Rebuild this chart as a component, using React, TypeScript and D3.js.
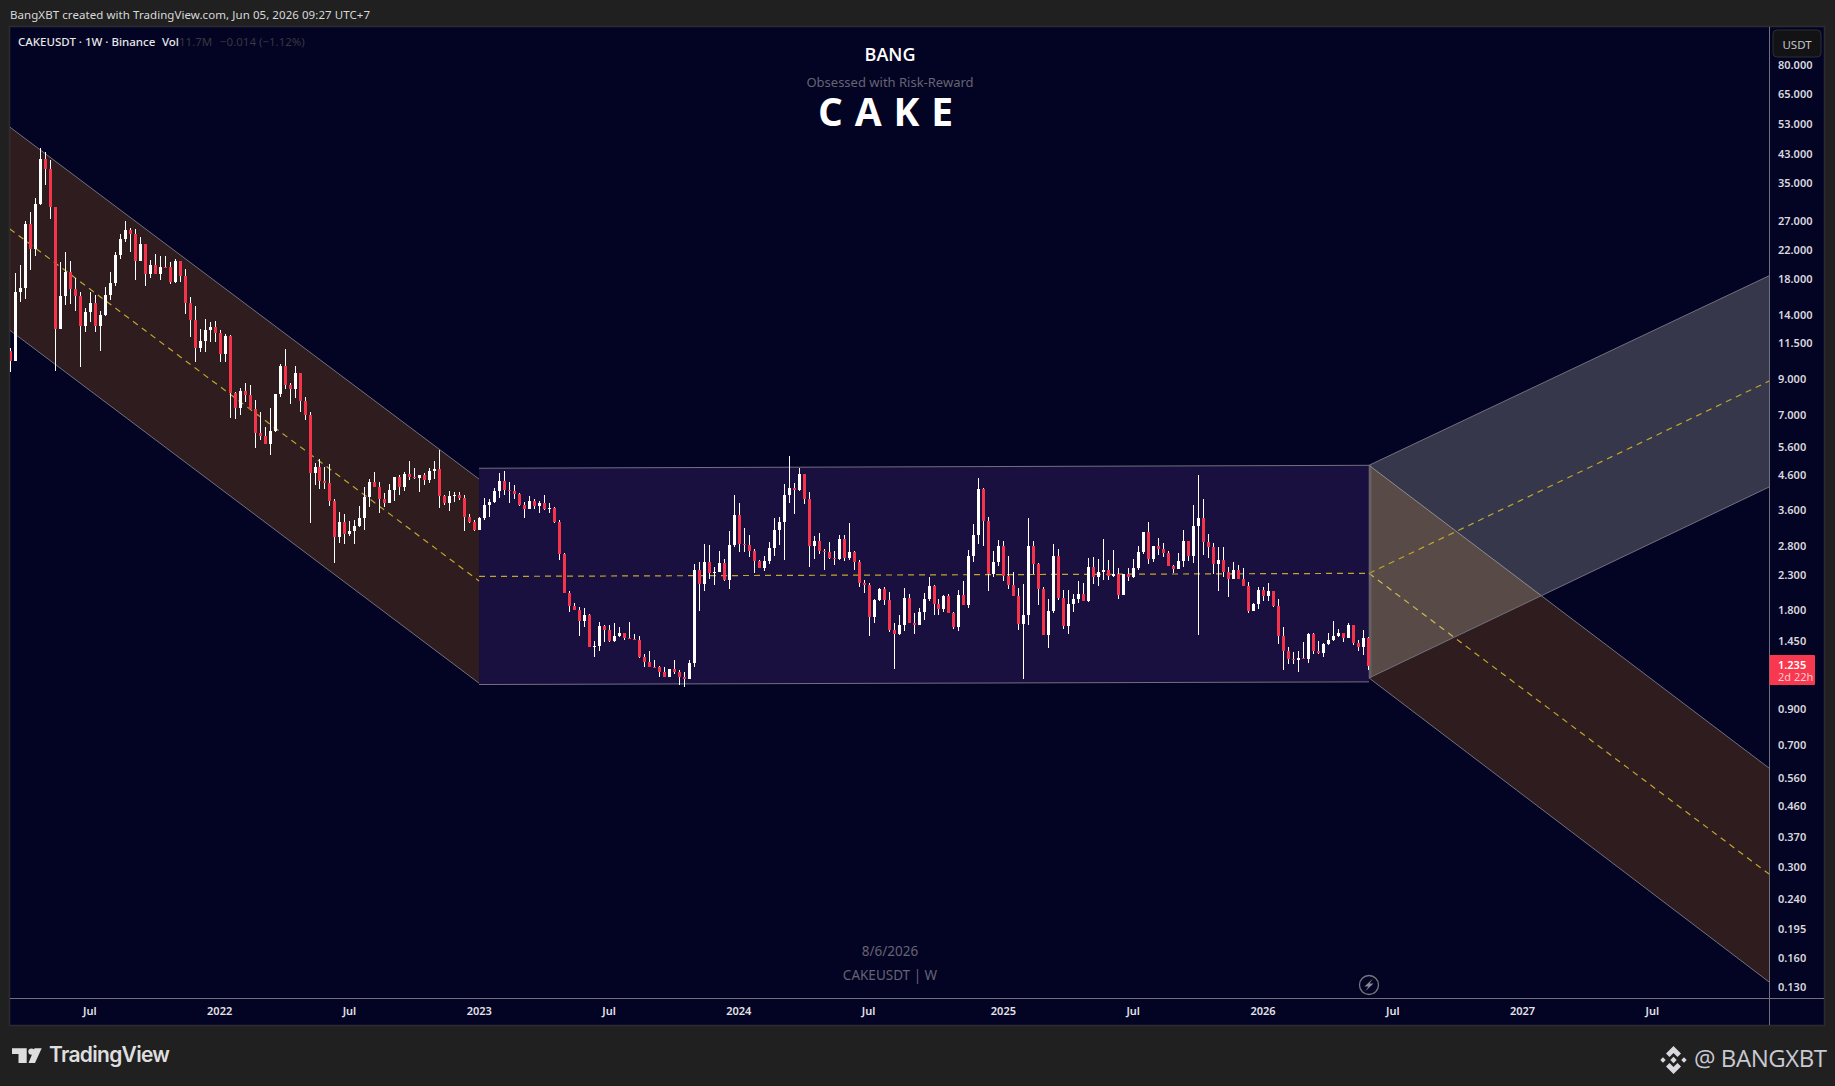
import * as d3 from "d3";

// weekly CAKEUSDT bars, first bar = week of 15 Mar 2021, last = week of 1 Jun 2026
const firstBar = "2021-03-15";
const lastBar = "2026-06-01";

const opens = [10.9,10.14,16.45,16.92,26.4,22.2,30.4,41.4,38.6,29.6,12.7,16.0,18.9,16.8,16.0,12.95,14.3,15.2,12.95,14.0,16.1,17.5,21.3,23.8,25.3,24.6,20.4,23.0,18.65,19.85,18.65,19.6,19.5,17.6,20.4,18.4,15.2,13.5,11.1,11.65,12.6,12.9,12.35,10.7,12.1,8.15,7.35,8.28,8.0,7.3,6.17,6.04,5.7,6.25,8.1,9.8,8.63,8.34,9.33,7.72,6.96,4.65,4.86,4.41,4.35,3.83,2.985,3.31,3.05,3.11,3.22,3.40,3.94,4.38,4.23,3.89,3.78,4.14,4.53,4.23,4.63,4.53,4.5,4.6,4.44,4.73,4.8,3.97,3.78,3.97,4.0,3.92,3.43,3.31,3.13,3.40,3.73,3.81,4.11,4.41,4.14,4.12,4.03,3.73,3.63,3.83,3.7,3.78,3.63,3.65,3.31,2.65,2.02,1.845,1.795,1.66,1.735,1.39,1.40,1.605,1.56,1.445,1.50,1.53,1.48,1.47,1.455,1.30,1.255,1.21,1.205,1.165,1.125,1.19,1.165,1.125,1.11,1.24,2.37,2.15,2.505,2.32,2.34,2.49,2.21,2.82,3.475,2.84,2.82,2.705,2.525,2.40,2.525,2.76,3.13,3.31,4.0,4.2,4.14,4.63,3.89,2.80,2.90,2.705,2.69,2.575,2.56,2.94,2.575,2.685,2.505,2.165,2.135,1.71,1.925,2.075,1.925,1.56,1.52,1.615,1.95,1.64,1.615,1.77,1.935,2.12,1.87,1.805,1.98,1.76,1.595,1.99,1.86,2.61,3.025,4.17,3.335,2.305,2.505,2.80,2.27,2.135,1.98,1.63,1.735,2.80,2.47,2.075,1.51,1.78,2.61,1.95,1.605,1.87,1.935,2.005,1.91,2.42,2.255,2.34,2.37,2.27,2.305,1.99,2.305,2.255,2.40,2.685,3.09,2.56,2.80,2.745,2.67,2.435,2.385,2.525,2.90,2.61,3.22,3.40,2.88,2.78,2.47,2.54,2.34,2.225,2.37,2.225,2.12,1.78,1.87,2.06,1.98,2.05,1.845,1.50,1.35,1.28,1.27,1.29,1.28,1.52,1.355,1.33,1.42,1.455,1.50,1.53,1.48,1.615,1.43,1.39,1.48];

const closes = [10.14,16.45,16.92,26.4,22.2,30.4,41.4,38.6,29.6,12.7,16.0,18.9,16.8,16.0,12.95,14.3,15.2,12.95,14.0,16.1,17.5,21.3,23.8,25.3,24.6,20.4,23.0,18.65,19.85,18.65,19.6,19.5,17.6,20.4,18.4,15.2,13.5,11.1,11.65,12.6,12.9,12.35,10.7,12.1,8.15,7.35,8.28,8.0,7.3,6.17,6.04,5.7,6.25,8.1,9.8,8.63,8.34,9.33,7.72,6.96,4.65,4.86,4.41,4.35,3.83,2.985,3.31,3.05,3.11,3.22,3.40,3.94,4.38,4.23,3.89,3.78,4.14,4.53,4.23,4.63,4.53,4.5,4.6,4.44,4.73,4.8,3.97,3.78,3.97,4.0,3.92,3.43,3.31,3.13,3.40,3.73,3.81,4.11,4.41,4.14,4.12,4.03,3.73,3.63,3.83,3.7,3.78,3.63,3.65,3.31,2.65,2.02,1.845,1.795,1.66,1.735,1.39,1.40,1.605,1.56,1.445,1.50,1.53,1.48,1.47,1.455,1.30,1.255,1.21,1.205,1.165,1.125,1.19,1.165,1.125,1.11,1.24,2.37,2.15,2.505,2.32,2.34,2.49,2.21,2.82,3.475,2.84,2.82,2.705,2.525,2.40,2.525,2.76,3.13,3.31,4.0,4.2,4.14,4.63,3.89,2.80,2.90,2.705,2.69,2.575,2.56,2.94,2.575,2.685,2.505,2.165,2.135,1.71,1.925,2.075,1.925,1.56,1.52,1.615,1.95,1.64,1.615,1.77,1.935,2.12,1.87,1.805,1.98,1.76,1.595,1.99,1.86,2.61,3.025,4.17,3.335,2.305,2.505,2.80,2.27,2.135,1.98,1.63,1.735,2.80,2.47,2.075,1.51,1.78,2.61,1.95,1.605,1.87,1.935,2.005,1.91,2.42,2.255,2.34,2.37,2.27,2.305,1.99,2.305,2.255,2.40,2.685,3.09,2.56,2.80,2.745,2.67,2.435,2.385,2.525,2.90,2.61,3.22,3.40,2.88,2.78,2.47,2.54,2.34,2.225,2.37,2.225,2.12,1.78,1.87,2.06,1.98,2.05,1.845,1.50,1.35,1.28,1.27,1.29,1.28,1.52,1.355,1.33,1.42,1.455,1.50,1.53,1.48,1.615,1.43,1.39,1.48,1.22];

const highs = [11.1,18.8,19.9,27.0,28.6,31.7,44.7,43.5,41.1,29.6,20.3,21.7,20.4,18.1,16.45,14.7,16.45,16.1,14.4,17.0,18.9,21.7,24.6,26.9,25.7,25.5,24.1,23.0,20.6,21.4,21.1,21.1,20.3,20.7,20.4,19.3,15.9,14.9,12.7,13.6,13.3,13.4,12.6,12.25,12.15,8.2,8.4,8.75,8.63,7.77,7.15,6.43,7.35,8.1,9.93,11.03,8.7,9.8,9.33,7.93,7.15,5.0,5.14,4.86,4.97,3.89,3.55,3.50,3.335,3.36,3.7,4.23,4.47,4.7,4.38,4.05,4.32,4.53,4.6,4.7,5.07,4.83,4.6,4.66,4.83,5.07,5.48,4.0,4.11,4.08,4.08,4.0,3.50,3.36,3.43,3.92,3.89,4.2,4.66,4.73,4.38,4.29,4.05,3.81,3.97,3.89,3.83,4.0,3.78,3.68,3.36,2.67,2.05,1.885,1.83,1.82,1.745,1.445,1.65,1.615,1.615,1.64,1.595,1.53,1.65,1.52,1.50,1.32,1.35,1.265,1.22,1.205,1.19,1.27,1.18,1.17,1.265,2.47,2.505,2.84,2.82,2.42,2.705,2.56,3.11,4.0,3.78,3.175,3.025,2.745,2.54,2.61,2.88,3.40,3.43,4.32,5.26,4.35,4.83,4.63,4.08,3.005,3.07,2.745,2.88,2.705,3.025,3.025,3.29,2.705,2.54,2.21,2.165,1.935,2.09,2.105,2.035,1.64,1.735,2.09,2.005,1.76,1.82,2.02,2.255,2.135,1.935,1.99,2.005,1.77,2.06,2.195,2.725,3.265,4.5,4.2,3.43,2.705,2.92,2.90,2.61,2.34,2.09,2.15,3.40,2.90,2.49,2.105,1.935,2.84,2.745,2.06,2.06,2.005,2.195,2.165,2.575,2.595,2.56,2.94,2.54,2.725,2.40,2.305,2.40,2.56,2.80,3.09,3.31,2.80,2.96,2.86,2.705,2.455,2.67,3.13,2.90,3.73,4.6,3.89,3.05,2.86,2.78,2.78,2.42,2.505,2.455,2.40,2.18,1.885,2.105,2.105,2.165,2.05,1.935,1.595,1.39,1.34,1.355,1.435,1.53,1.53,1.445,1.43,1.53,1.66,1.58,1.53,1.64,1.615,1.455,1.56,1.49];

const lows = [9.4,10.14,15.3,15.65,19.15,21.1,30.2,34.5,27.4,9.46,12.7,15.0,15.1,14.4,9.72,12.45,13.3,12.45,10.88,13.9,15.5,17.15,20.7,23.3,21.7,17.9,20.4,17.15,18.1,18.65,17.9,19.5,17.4,17.5,17.6,14.1,12.05,10.07,10.8,10.8,11.6,11.6,10.07,10.07,6.86,6.8,7.0,7.66,7.3,5.56,5.87,5.7,5.29,6.21,7.93,8.34,7.55,7.88,7.15,6.76,3.29,4.29,4.17,4.17,3.7,2.49,2.86,2.84,3.005,2.84,3.20,3.13,3.68,4.23,3.525,3.68,3.78,3.83,4.0,4.11,4.44,4.47,4.08,4.29,4.35,4.47,3.65,3.73,3.575,3.81,3.86,3.11,3.29,3.11,3.13,3.36,3.43,3.78,3.92,4.0,3.78,3.89,3.7,3.40,3.63,3.63,3.525,3.6,3.525,3.29,2.54,2.02,1.77,1.795,1.50,1.595,1.39,1.30,1.355,1.435,1.435,1.435,1.49,1.455,1.47,1.455,1.29,1.21,1.21,1.205,1.125,1.125,1.125,1.155,1.065,1.05,1.11,1.205,1.78,2.05,2.225,2.135,2.34,2.195,2.075,2.78,2.685,2.685,2.595,2.32,2.40,2.355,2.47,2.61,2.82,2.54,3.78,3.50,4.11,3.76,2.42,2.56,2.65,2.37,2.56,2.455,2.54,2.525,2.54,2.37,2.105,2.02,1.50,1.64,1.91,1.86,1.54,1.195,1.51,1.55,1.64,1.52,1.615,1.675,1.91,1.735,1.735,1.77,1.76,1.57,1.55,1.86,1.82,2.505,2.84,2.80,2.05,2.255,2.435,2.195,2.075,1.98,1.56,1.11,1.615,2.305,1.86,1.51,1.38,1.76,1.925,1.58,1.52,1.77,1.885,1.91,1.90,2.15,2.12,2.21,2.21,2.255,1.935,1.99,2.195,2.24,2.37,2.65,2.47,2.505,2.63,2.595,2.435,2.32,2.385,2.42,2.525,2.49,1.51,2.63,2.575,2.305,2.05,2.255,1.965,2.225,2.225,2.12,1.76,1.78,1.805,1.91,1.91,1.83,1.42,1.18,1.23,1.23,1.165,1.28,1.24,1.32,1.32,1.30,1.41,1.445,1.49,1.435,1.48,1.41,1.355,1.31,1.18];

const priceTicks = [80,65,53,43,35,27,22,18,14,11.5,9,7,5.6,4.6,3.6,2.8,2.3,1.8,1.45,0.9,0.7,0.56,0.46,0.37,0.3,0.24,0.195,0.16,0.13];
const timeTicks = ["2021-07-05","2022-01-03","2022-07-04","2023-01-02","2023-07-03","2024-01-01","2024-07-01","2025-01-06","2025-07-07","2026-01-05","2026-07-06","2027-01-04","2027-07-05"];
const lastPrice = 1.235;

// channel drawings: anchors as [upper, mid, lower] prices at both ends
const downChannelA = { from: "2021-03-14", to: "2023-01-01", start: [51.8, 25.5, 12.6], end: [4.47, 2.2, 1.08] };
const rangeChannel = { from: "2023-01-01", to: "2026-06-02", start: [4.82, 2.27, 1.07], end: [4.92, 2.32, 1.09] };
const downChannelB = { from: "2026-06-02", to: "2027-12-15", start: [4.92, 2.32, 1.12], end: [0.598, 0.286, 0.135] };
const upChannel = { from: "2026-06-02", to: "2027-12-15", start: [4.92, 2.32, 1.12], end: [18.4, 8.84, 4.23] };

const W = 1835;
const H = 1086;
const plot = { left: 10, top: 27, right: 1769, axisRight: 1824, bottom: 998, outerBottom: 1025 };
const UI = "'Noto Sans', 'Open Sans', sans-serif";
const LINE = "#72707e";
const GOLD = "#c0a62e";
const UP = "#ffffff";
const DOWN = "#f5334a";
const DIM = "#666472";

const x = d3.scaleUtc().domain([new Date(firstBar), new Date(lastBar)]).range([10.5, 1368.3]);
const y = d3.scaleLog().domain([0.13, 80]).range([987.4, 64.6]);
const bars = closes.map((c, i) => ({
  date: d3.utcDay.offset(new Date(firstBar), i * 7),
  o: opens[i], h: highs[i], l: lows[i], c,
}));
const fmtPrice = d3.format(".3f");
const fmtTick = (s: string) => {
  const d = new Date(s);
  return d.getUTCMonth() === 0 ? d3.utcFormat("%Y")(d) : d3.utcFormat("%b")(d);
};
const line = d3.line<[number, number]>();

function Channel({ ch, fill }: { ch: typeof upChannel; fill: string }) {
  const x0 = x(new Date(ch.from));
  const x1 = x(new Date(ch.to));
  const edge = (k: number): [number, number][] => [[x0, y(ch.start[k])], [x1, y(ch.end[k])]];
  const poly = [...edge(0), ...edge(2).reverse()];
  return (
    <g>
      <path d={line(poly) + "Z"} fill={fill} />
      <path d={line(edge(0))!} stroke={LINE} fill="none" />
      <path d={line(edge(2))!} stroke={LINE} fill="none" />
      <path d={line(edge(1))!} stroke={GOLD} strokeWidth={1.2} fill="none" strokeDasharray="6 5" />
    </g>
  );
}

export default function App() {
  const seam = x(new Date(upChannel.from));
  const lastY = y(lastPrice);
  return (
    <svg width={W} height={H} style={{ position: "absolute", left: 0, top: 0 }} fontFamily={UI}>
      <defs>
        <clipPath id="plot">
          <rect x={plot.left} y={plot.top} width={plot.right - plot.left} height={plot.bottom - plot.top} />
        </clipPath>
      </defs>
      <rect width={W} height={H} fill="#202020" />
      <rect x={plot.left - 0.5} y={plot.top - 0.5} width={plot.axisRight - plot.left + 1} height={plot.outerBottom - plot.top + 1} fill="#030324" stroke="#2c2c30" strokeWidth={1.5} />

      <text x={10} y={19} fontSize={11.5} fill="#d9d9d9" textLength={360}>BangXBT created with TradingView.com, Jun 05, 2026 09:27 UTC+7</text>

      <g clipPath="url(#plot)">
        <Channel ch={downChannelA} fill="rgba(218,128,16,0.2)" />
        <Channel ch={rangeChannel} fill="rgba(118,68,176,0.2)" />
        <Channel ch={downChannelB} fill="rgba(218,128,16,0.2)" />
        <Channel ch={upChannel} fill="rgba(245,250,220,0.21)" />
        <line x1={seam + 1} x2={seam + 1} y1={y(upChannel.start[0])} y2={y(upChannel.start[2])} stroke="#77757f" strokeWidth={3} opacity={0.5} />

        <g shapeRendering="crispEdges">
          {bars.map((b) => {
            const cx = Math.floor(x(b.date));
            const top = Math.round(y(Math.max(b.o, b.c)));
            const bot = Math.round(y(Math.min(b.o, b.c)));
            const color = b.c >= b.o ? UP : DOWN;
            return (
              <g key={+b.date}>
                <rect x={cx} width={1} y={Math.round(y(b.h))} height={Math.max(1, Math.round(y(b.l)) - Math.round(y(b.h)))} fill={UP} />
                <rect x={cx - 1} width={3} y={top} height={Math.max(1, bot - top)} fill={color} />
              </g>
            );
          })}
        </g>
      </g>

      <text x={18} y={46} fontSize={11.5} fontWeight={500} fill="#e8e8e8">CAKEUSDT · 1W · Binance</text>
      <text x={162} y={46} fontSize={11.5} fontWeight={500} fill="#e8e8e8">Vol</text>
      <text x={179} y={46} fontSize={11.5} fill="#38383e">11.7M</text>
      <text x={220} y={46} fontSize={11.5} fill="#38383e">−0.014 (−1.12%)</text>

      <text x={890} y={61} textAnchor="middle" fontFamily="'Open Sans', sans-serif" fontSize={18} fontWeight={600} fill="#fff">BANG</text>
      <text x={890} y={87} textAnchor="middle" fontSize={13} fill={DIM}>Obsessed with Risk-Reward</text>
      <text x={818} y={126} fontFamily="'Open Sans', sans-serif" fontSize={39} fontWeight={700} fill="#fff" textLength={135}>C A K E</text>

      <text x={890} y={956} textAnchor="middle" fontSize={13.5} fill={DIM}>8/6/2026</text>
      <text x={890} y={980} textAnchor="middle" fontSize={13.5} fill={DIM}>CAKEUSDT | W</text>
      <circle cx={1369} cy={985} r={9.5} fill="none" stroke="#77777d" strokeWidth={1.3} />
      <path d="M1373 978.5 L1364.5 986.5 L1368.5 986.5 L1365 991.5 L1373.5 983.5 L1369.5 983.5 Z" fill="#8a8a90" />

      <line x1={plot.left} x2={plot.axisRight} y1={plot.bottom + 0.5} y2={plot.bottom + 0.5} stroke={LINE} />
      <line x1={plot.right + 0.5} x2={plot.right + 0.5} y1={plot.top} y2={plot.outerBottom} stroke={LINE} />

      {timeTicks.map((t) => (
        <text key={t} x={x(new Date(t)) - 0.5} y={1015} textAnchor="middle" fontSize={11} fontWeight={600} fill="#e4e4e8">{fmtTick(t)}</text>
      ))}

      {priceTicks.map((p) => (
        <text key={p} x={1778} y={y(p) + 4} fontSize={11} fontWeight={600} fill="#d8d8dd">{fmtPrice(p)}</text>
      ))}

      <rect x={1773} y={30} width={48} height={27} rx={4} fill="#131316" stroke="#2e2e32" />
      <text x={1797} y={49} textAnchor="middle" fontSize={11.5} fill="#c4c4c8">USDT</text>

      <rect x={plot.right + 0.5} y={lastY - 9} width={45.5} height={30} rx={1} fill="#f7384e" />
      <text x={1778} y={lastY + 5} fontSize={11} fontWeight={600} fill="#fff">{fmtPrice(lastPrice)}</text>
      <text x={1778} y={lastY + 17} fontSize={11} fill="#ffc9cf">2d 22h</text>

      {/* footer logos */}
      <path d="M12 1048.3 H26.7 V1063 H18.5 V1054 H12 Z" fill="#dedede" />
      <circle cx={31.5} cy={1051.6} r={3.2} fill="#dedede" />
      <path d="M34.5 1048.3 H41.7 L35 1063 H28.5 Z" fill="#dedede" />
      <text x={49} y={1062} fontFamily="Inter, sans-serif" fontSize={21} fontWeight={600} fill="#dedede" textLength={121}>TradingView</text>

      <g transform="translate(1673.5,1060)" fill="#d8d8de">
        <path d="M0 -14 L7.5 -6.5 L4 -3 L0 -7 L-4 -3 L-7.5 -6.5 Z" />
        <path d="M0 14 L7.5 6.5 L4 3 L0 7 L-4 3 L-7.5 6.5 Z" />
        <path d="M0 -3.2 L3.2 0 L0 3.2 L-3.2 0 Z" />
        <path d="M-10.5 -2.7 L-7.8 0 L-10.5 2.7 L-13.2 0 Z" />
        <path d="M10.5 -2.7 L13.2 0 L10.5 2.7 L7.8 0 Z" />
      </g>
      <text x={1694} y={1067} fontFamily="'Open Sans', sans-serif" fontSize={24} fill="#c9c9d1" textLength={133}>@ BANGXBT</text>
    </svg>
  );
}
